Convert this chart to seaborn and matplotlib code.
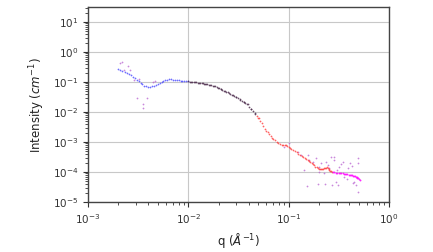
import matplotlib
matplotlib.use("Agg")
import matplotlib.pyplot as plt
import seaborn as sns
import pandas as pd

# ---- data ----
# low-q data (blue)
q_low = [0.00200, 0.00210, 0.00220, 0.00232, 0.00244, 0.00256, 0.00268, 0.00280, 0.00293, 0.00306,
         0.00320, 0.00334, 0.00349, 0.00365, 0.00381, 0.00398, 0.00416, 0.00435, 0.00455, 0.00475,
         0.00496, 0.00518, 0.00541, 0.00565, 0.00590, 0.00616, 0.00644, 0.00673, 0.00703, 0.00734,
         0.00767, 0.00801, 0.00837, 0.00874, 0.00913, 0.00954, 0.00997]
i_low = [0.270, 0.255, 0.240, 0.222, 0.205, 0.186, 0.168, 0.150, 0.134, 0.118,
         0.104, 0.092, 0.083, 0.076, 0.071, 0.069, 0.069, 0.071, 0.075, 0.081,
         0.088, 0.095, 0.103, 0.110, 0.116, 0.120, 0.122, 0.122, 0.120, 0.117,
         0.115, 0.113, 0.112, 0.110, 0.108, 0.107, 0.105]

# overlap region (blue + red data on top of each other -> dark)
q_overlap = [0.0100, 0.0104, 0.0107, 0.0109, 0.0114, 0.0117, 0.0119, 0.0124, 0.0127, 0.0130,
             0.0136, 0.0139, 0.0142, 0.0148, 0.0151, 0.0155, 0.0162, 0.0165, 0.0169, 0.0176,
             0.0180, 0.0184, 0.0192, 0.0196, 0.0201, 0.0210, 0.0214, 0.0219, 0.0229, 0.0233,
             0.0239, 0.0250, 0.0254, 0.0261, 0.0273, 0.0277, 0.0285, 0.0298, 0.0302, 0.0311,
             0.0325, 0.0329, 0.0340, 0.0355, 0.0359, 0.0371, 0.0388, 0.0391, 0.0405, 0.0423,
             0.0426, 0.0442, 0.0462, 0.0465]
i_overlap = [0.104, 0.103, 0.102, 0.101, 0.099, 0.098, 0.097, 0.095, 0.094, 0.093,
             0.091, 0.090, 0.089, 0.086, 0.085, 0.083, 0.080, 0.079, 0.077, 0.074,
             0.072, 0.071, 0.067, 0.065, 0.063, 0.059, 0.057, 0.055, 0.051, 0.049,
             0.048, 0.045, 0.044, 0.041, 0.037, 0.036, 0.034, 0.032, 0.031, 0.0295,
             0.027, 0.026, 0.024, 0.022, 0.021, 0.020, 0.018, 0.0178, 0.015, 0.0128,
             0.0125, 0.0107, 0.0090, 0.0087]

# mid-q data (red)
q_mid = [0.0483, 0.0500, 0.0505, 0.0520, 0.0540, 0.0560, 0.0580, 0.0600, 0.0620, 0.0640,
         0.0660, 0.0680, 0.0700, 0.0730, 0.0760, 0.0790, 0.0820, 0.0850, 0.0880, 0.0910,
         0.0940, 0.0970, 0.1000, 0.1030, 0.1060, 0.110, 0.115, 0.120, 0.125, 0.130,
         0.135, 0.140, 0.145, 0.150, 0.155, 0.160, 0.165, 0.170, 0.175, 0.180,
         0.185, 0.190, 0.195, 0.200, 0.205, 0.210, 0.215, 0.220, 0.225, 0.230,
         0.235, 0.240, 0.245, 0.250, 0.255, 0.260, 0.265, 0.270]
i_mid = [0.0075, 0.0065, 0.0062, 0.0052, 0.0042, 0.0034, 0.0028, 0.0024, 0.0021, 0.0018,
         0.0016, 0.0014, 0.0013, 0.00115, 0.00102, 0.00092, 0.00086, 0.00082, 0.00080, 0.00079,
         0.00077, 0.00073, 0.00068, 0.00063, 0.00058, 0.00053, 0.00049, 0.00045, 0.00041, 0.00038,
         0.00035, 0.00032, 0.00030, 0.00028, 0.00026, 0.00024, 0.00022, 0.00020, 0.00018, 0.000165,
         0.000152, 0.000142, 0.000135, 0.000130, 0.000128, 0.000127, 0.000128, 0.000130, 0.000132, 0.000135,
         0.000140, 0.000142, 0.000138, 0.000128, 0.000118, 0.000110, 0.000105, 0.000102]

# high-q data (magenta)
q_high = [0.275, 0.285, 0.295, 0.305, 0.315, 0.325, 0.335, 0.345, 0.355, 0.365,
          0.375, 0.385, 0.395, 0.405, 0.415, 0.425, 0.435, 0.445, 0.455, 0.465,
          0.475, 0.485, 0.495, 0.505, 0.515]
i_high = [1.00e-4, 9.8e-5, 9.6e-5, 9.5e-5, 9.3e-5, 9.2e-5, 9.1e-5, 9.0e-5, 8.9e-5, 8.7e-5,
          8.5e-5, 8.3e-5, 8.1e-5, 8.0e-5, 7.9e-5, 7.7e-5, 7.5e-5, 7.3e-5, 7.1e-5, 6.8e-5,
          6.6e-5, 6.4e-5, 6.1e-5, 5.8e-5, 5.6e-5]

# scattered noisy points (purple)
q_noise = [0.0021, 0.0022, 0.0025, 0.0023, 0.0026, 0.0029, 0.0032, 0.0031, 0.0035, 0.0035,
           0.0039, 0.0047, 0.0044,
           0.089, 0.100, 0.123, 0.132, 0.141, 0.155, 0.159, 0.151, 0.174, 0.186,
           0.194, 0.200, 0.210, 0.224, 0.234, 0.245, 0.250, 0.229, 0.263, 0.270,
           0.280, 0.295, 0.310, 0.316, 0.350, 0.355, 0.390, 0.410, 0.440, 0.450,
           0.490, 0.490, 0.490, 0.470, 0.280, 0.200, 0.300, 0.330, 0.380, 0.430]
i_noise = [0.43, 0.46, 0.35, 0.25, 0.25, 0.12, 0.126, 0.029, 0.0185, 0.0136,
           0.029, 0.107, 0.10,
           6.8e-4, 9.3e-4, 4.6e-4, 3.7e-4, 1.17e-4, 3.7e-4, 2.5e-4, 3.4e-5, 2.2e-4, 2.9e-4,
           4.0e-5, 1.5e-4, 2.0e-4, 9.3e-5, 2.2e-4, 1.7e-4, 1.36e-4, 4.0e-5, 3.2e-4, 3.7e-5,
           2.5e-4, 4.6e-5, 3.7e-5, 1.5e-4, 2.2e-4, 6.8e-5, 1.36e-4, 2.0e-4, 4.3e-5, 4.6e-5,
           2.2e-5, 2.9e-4, 2.0e-4, 3.7e-5, 3.2e-4, 1.0e-4, 1.2e-4, 1.8e-4, 6.0e-5, 1.6e-4]

# ---- plot ----
sns.set_style("ticks")
plt.rcParams['font.family'] = ['DejaVu Sans']

fig = plt.figure(figsize=(4.33, 2.52), dpi=100)
ax = fig.add_axes([88/433, 1-202/252, (389-88)/433, (202-7)/252])

series = [
    (q_noise, i_noise, "#b860d0", 1.6, 0.75),
    (q_low, i_low, "#4848ff", 1.6, 0.8),
    (q_overlap, i_overlap, "#503050", 1.6, 0.85),
    (q_mid, i_mid, "#ff3030", 1.6, 0.75),
    (q_high, i_high, "#ff10ff", 1.8, 0.9),
]
for qs, ints, col, size, alpha in series:
    df = pd.DataFrame({"q": qs, "I": ints})
    sns.scatterplot(data=df, x="q", y="I", ax=ax, color=col, s=size, linewidth=0, alpha=alpha)

ax.set_xscale("log")
ax.set_yscale("log")
ax.set_xlim(1e-3, 1)
ax.set_ylim(1e-5, 10**1.5)
ax.grid(True, which="major", color="#c8c8c8", linewidth=0.8)
ax.set_axisbelow(True)

for side in ["left", "bottom", "top", "right"]:
    ax.spines[side].set_color("#444444")
    ax.spines[side].set_linewidth(1.0)

ax.tick_params(axis="both", which="major", labelsize=7.5, length=3.5, width=0.8, colors="#333333")
ax.tick_params(axis="both", which="minor", length=2, width=0.6, colors="#333333")

ax.set_xlabel(r"q ($\AA^{-1}$)", fontsize=8.5, color="#222222", labelpad=4)
ax.set_ylabel(r"Intensity ($cm^{-1}$)", fontsize=8.5, color="#222222", labelpad=4)

fig.savefig("out.png", dpi=100)
